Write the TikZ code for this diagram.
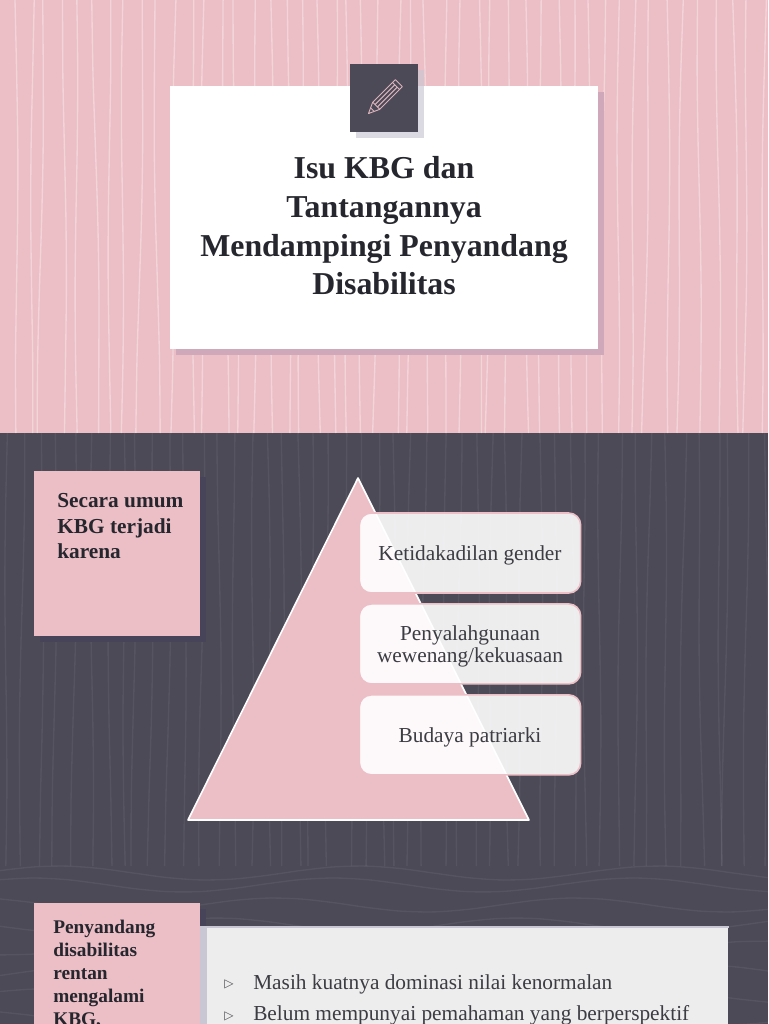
\documentclass[tikz,border=0pt]{standalone}
\usepackage{fontspec}
\setmainfont{Liberation Serif}
\newfontfamily\symfont{DejaVu Sans}
\usetikzlibrary{positioning, calc}
\definecolor{pinkbg}{HTML}{ECBFC6}
\definecolor{darkbg}{HTML}{4D4A58}
\definecolor{inktext}{HTML}{26262E}
\definecolor{cardshadow}{HTML}{CFA8B9}
\definecolor{darkshadow}{HTML}{474358}
\definecolor{lilacshadow}{HTML}{C9C7D3}
\tikzset{
    pinkline/.style={white, opacity=0.35, line width=1pt},
    darkline/.style={white, opacity=0.06, line width=1pt},
    flatbox/.style={draw=none, fill=pinkbg, inner sep=0pt},
    reasonbox/.style={rectangle, rounded corners=9pt, draw=pinkbg, line width=1.2pt, fill=white, fill opacity=0.9, text opacity=1, text=inktext!90, minimum width=166pt, minimum height=60pt, text depth=0pt, align=center, font=\fontsize{16}{17}\selectfont},
    titleline/.style={anchor=base, text=inktext, font=\fontsize{23.9}{28}\selectfont\bfseries},
    notetext/.style={anchor=base west, inner sep=0pt, text=inktext, font=\fontsize{16}{18}\selectfont\bfseries},
    sidetext/.style={anchor=base west, inner sep=0pt, text=inktext, font=\fontsize{14.5}{16}\selectfont\bfseries},
    bulletmark/.style={anchor=base, inner sep=0pt, text=inktext!80, font=\fontsize{9}{10}\symfont},
    bullettext/.style={anchor=base west, inner sep=0pt, text=inktext!90, font=\fontsize{16}{18}\selectfont},
}
\begin{document}
\begin{tikzpicture}[x=0.75pt, y=-0.75pt]
    \useasboundingbox (0,0) rectangle (768,1024);
    \clip (0,0) rectangle (768,1024);

    % backgrounds
    \fill[pinkbg] (0,0) rectangle (768,433);
    \fill[darkbg] (0,433) rectangle (768,1024);

    % texture of the top band
    \pgfmathsetseed{4217}
    \foreach \n in {0,...,47} {
        \pgfmathsetmacro{\xa}{8+\n*16+rnd*9}
        \pgfmathsetmacro{\xb}{\xa+(rnd-0.5)*14}
        \pgfmathsetmacro{\ph}{rnd*360}
        \draw[pinkline] plot[variable=\t, domain=0:433, samples=7, smooth] ({\xa+(\xb-\xa)*\t/433+1.5*sin(\t*0.8+\ph)}, \t);
    }

    % texture of the dark band
    \foreach \n in {0,...,47} {
        \pgfmathsetmacro{\xa}{6+\n*16+rnd*9}
        \pgfmathsetmacro{\xb}{\xa+(rnd-0.5)*12}
        \pgfmathsetmacro{\ph}{rnd*360}
        \draw[darkline] plot[variable=\t, domain=433:866, samples=7, smooth] ({\xa+(\xb-\xa)*(\t-433)/433+1.5*sin(\t*0.8+\ph)}, \t);
    }
    \foreach \ya/\ph in {873/200, 885/230, 905/300, 925/10, 948/80, 972/150, 996/220, 1018/300} {
        \draw[darkline] plot[variable=\t, domain=0:768, samples=24, smooth] (\t, {\ya+7*sin(\t*1.2+\ph)});
    }

    % title card
    \fill[cardshadow] (176,92) rectangle (604,355);
    \fill[white] (170,86) rectangle (598,349);
    \node[titleline] (isu) at (384,178) {Isu KBG dan};
    \node[titleline] (tantangan) at (384,217) {Tantangannya};
    \node[titleline] (mendampingi) at (384,256) {Mendampingi Penyandang};
    \node[titleline] (disabilitas) at (384,294) {Disabilitas};

    % icon tile
    \fill[lilacshadow, opacity=0.65] (356,70) rectangle (424,138);
    \fill[darkbg] (350,64) rectangle (418,132);
    \begin{scope}[shift={(384,98)}, rotate=-45, draw=pinkbg!90!darkbg, line width=0.7pt, line join=round]
        \draw (-5,-21) rectangle (5,-17);
        \draw (-5,-17) -- (-5,11) -- (0,22) -- (5,11) -- (5,-17);
        \draw (-1.7,-17) -- (-1.7,11);
        \draw (1.7,-17) -- (1.7,11);
        \draw (-5,11) -- (5,11);
        \draw (-2.4,16.5) -- (2.4,16.5);
    \end{scope}

    % pink note on the left
    \fill[darkshadow] (40,477) rectangle (206,642);
    \node[flatbox, minimum width=124.5pt, minimum height=123.75pt, anchor=north west] (note) at (34,471) {};
    \node[notetext] (noteA) at (57,507) {Secara umum};
    \node[notetext] (noteB) at (57,533) {KBG terjadi};
    \node[notetext] (noteC) at (57,558) {karena};

    % pyramid with the three reasons
    \draw[fill=pinkbg, draw=white, line width=1.2pt, line join=round] (358,478) -- (529,820) -- (188,820) -- cycle;
    \node[reasonbox] (gender) at (470,553) {Ketidakadilan gender};
    \node[reasonbox, below=7pt of gender] (wewenang) {Penyalahgunaan\\wewenang/kekuasaan};
    \node[reasonbox, below=7pt of wewenang] (patriarki) {Budaya patriarki};

    % bottom panel
    \fill[darkshadow] (200,909) rectangle (206,926);
    \fill[lilacshadow] (200,926) rectangle (207,1024);
    \node[rectangle, draw=none, fill=black!7, minimum width=390.75pt, minimum height=80pt, inner sep=0pt, anchor=north west] (panel) at (207,927) {};
    \draw[lilacshadow, line width=0.8pt] (panel.north west) -- (panel.north east);
    \node[flatbox, minimum width=124.5pt, minimum height=100pt, anchor=north west] (side) at (34,903) {};
    \node[sidetext] (sideA) at (53,933) {Penyandang};
    \node[sidetext] (sideB) at (53,956) {disabilitas};
    \node[sidetext] (sideC) at (53,979) {rentan};
    \node[sidetext] (sideD) at (53,1002) {mengalami};
    \node[sidetext] (sideE) at (53,1025) {KBG,};
    \node[bulletmark] (markA) at (229,987) {▷};
    \node[bullettext] (itemA) at (253,989) {Masih kuatnya dominasi nilai kenormalan};
    \node[bulletmark] (markB) at (229,1019) {▷};
    \node[bullettext] (itemB) at (253,1020) {Belum mempunyai pemahaman yang berperspektif};
\end{tikzpicture}
\end{document}
